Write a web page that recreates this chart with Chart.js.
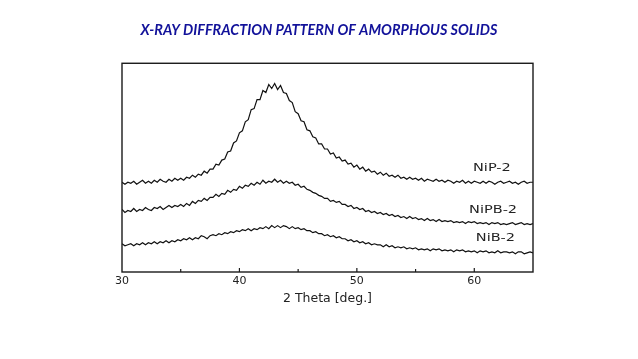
<!DOCTYPE html>
<html>
<head>
<meta charset="utf-8">
<script src="https://cdn.jsdelivr.net/npm/chart.js@4.4.1/dist/chart.umd.min.js"></script>
<style>
  html, body { margin: 0; padding: 0; background: #fff; }
  #xrd { display: block; }
</style>
</head>
<body>
<canvas id="xrd" width="638" height="359"></canvas>
<script>
// 2 theta grid: 30 to 65 deg, one reading every 0.25 deg
const thetaStart = 30;
const thetaStep = 0.25;
const xTickLabels = [30, 40, 50, 60];
const seriesNames = ['NiP-2', 'NiPB-2', 'NiB-2'];

// intensities (arbitrary units, curves kept offset as in the figure)
const nip2 = [
  89,87,89,88, 90,87,89,91, 88,90,88,91, 89,92,90,89, 92,90,93,91,
  93,91,94,93, 96,94,97,96, 100,98,102,102, 107,106,111,112, 119,120,128,130,
  138,140,149,151, 161,162,171,171, 180,178,186,182, 187,181,185,178, 177,170,168,159,
  157,150,149,141, 140,134,133,127, 127,122,122,117, 118,113,114,110, 111,107,108,104,
  106,102,104,100, 102,99,100,97, 99,96,98,95, 96,94,96,93, 94,92,94,92,
  93,91,93,90, 92,91,90,92, 90,91,89,91, 90,88,90,89, 91,88,90,88,
  90,89,88,90, 88,90,89,87, 89,90,88,89, 90,88,89,87, 89,90,88,89, 89
];
const nipb2 = [
  62,59,61,60, 63,60,62,61, 64,62,61,64, 63,65,62,64, 66,64,66,65,
  67,65,68,66, 70,68,71,70, 73,71,74,74, 77,75,78,77, 81,79,82,81,
  85,83,86,85, 88,86,89,87, 91,88,90,89, 92,89,91,88, 90,88,89,86,
  87,84,85,82, 81,79,78,76, 75,73,73,70, 71,69,70,67, 67,65,66,63,
  64,62,63,60, 61,59,60,58, 59,57,58,56, 57,55,56,54, 55,53,55,53,
  54,52,53,51, 53,51,52,50, 52,50,51,50, 51,49,50,49, 50,48,50,49,
  50,48,49,48, 49,47,49,48, 49,47,48,47, 48,49,47,48, 49,47,48,47, 48
];
const nib2 = [
  28,26,27,28, 26,28,27,29, 27,29,28,30, 28,30,29,31, 29,31,30,32,
  31,33,32,34, 32,34,33,36, 35,33,36,37, 36,38,37,39, 38,40,39,41,
  40,42,41,43, 41,43,42,44, 43,45,43,46, 44,46,44,46, 45,43,45,43,
  44,42,43,41, 41,39,40,38, 38,36,37,35, 36,34,35,33, 33,31,32,30,
  31,29,30,28, 29,27,28,27, 27,25,27,25, 26,24,25,24, 25,23,24,23,
  24,22,23,22, 23,21,23,22, 23,21,22,21, 22,20,22,21, 22,20,21,20,
  21,19,21,20, 21,19,20,19, 21,19,20,20, 19,20,18,20, 20,18,19,20, 19
];
// where each name sits (deg, intensity)
const labelX = [61.5, 61.6, 61.8];
const labelY = [103, 61, 33];

const angles = nip2.map(function(_, i) { return thetaStart + i * thetaStep; });
function toPoints(vals) {
  return vals.map(function(v, i) { return { x: angles[i], y: v }; });
}

var frameAndLabels = {
  id: 'frameAndLabels',
  afterDatasetsDraw: function(chart) {
    var ctx = chart.ctx;
    var a = chart.chartArea;
    var xs = chart.scales.x;
    var ys = chart.scales.y;
    ctx.save();
    ctx.strokeStyle = '#1a1a1a';
    ctx.lineWidth = 1.4;
    ctx.strokeRect(a.left, a.top, a.right - a.left, a.bottom - a.top);
    // inward ticks on the bottom edge
    ctx.lineWidth = 1.2;
    for (var t = 35; t < 65; t += 5) {
      var px = xs.getPixelForValue(t);
      ctx.beginPath();
      ctx.moveTo(px, a.bottom);
      ctx.lineTo(px, a.bottom - (t % 10 === 0 ? 4 : 3));
      ctx.stroke();
    }
    // curve names, the figure's lettering is stretched sideways
    ctx.fillStyle = '#222';
    ctx.font = '10px "DejaVu Sans"';
    ctx.textAlign = 'center';
    ctx.textBaseline = 'middle';
    for (var i = 0; i < seriesNames.length; i++) {
      ctx.save();
      ctx.translate(xs.getPixelForValue(labelX[i]), ys.getPixelForValue(labelY[i]));
      ctx.scale(1.45, 1);
      ctx.fillText(seriesNames[i], 0, 0);
      ctx.restore();
    }
    ctx.restore();
  }
};

new Chart(document.getElementById('xrd'), {
  type: 'line',
  data: {
    datasets: [
      { label: seriesNames[0], data: toPoints(nip2) },
      { label: seriesNames[1], data: toPoints(nipb2) },
      { label: seriesNames[2], data: toPoints(nib2) }
    ].map(function(d) {
      d.borderColor = '#111';
      d.borderWidth = 1.2;
      d.pointRadius = 0;
      d.tension = 0;
      d.fill = false;
      return d;
    })
  },
  options: {
    responsive: false,
    animation: false,
    // title is centred on the page, so the 17px left gap goes to a blank y axis
    layout: { padding: { left: 105, right: 105, top: 0, bottom: 53 } },
    plugins: {
      legend: { display: false },
      tooltip: { enabled: false },
      title: {
        display: true,
        text: 'X-RAY DIFFRACTION PATTERN OF AMORPHOUS SOLIDS',
        color: '#12129a',
        font: { family: 'Lato', size: 14.4, style: 'italic', weight: 'bold' },
        padding: { top: 22, bottom: 24 }
      }
    },
    scales: {
      x: {
        type: 'linear',
        min: 30,
        max: 65,
        grid: { display: false, drawTicks: false },
        border: { display: false },
        ticks: {
          stepSize: 5,
          padding: 4,
          color: '#222',
          font: { family: 'DejaVu Sans', size: 11, lineHeight: 1 },
          autoSkip: false,
          maxRotation: 0,
          callback: function(v) { return xTickLabels.indexOf(v) >= 0 ? String(v) : ''; }
        },
        title: {
          display: true,
          text: '2 Theta [deg.]',
          color: '#222',
          font: { family: 'DejaVu Sans', size: 12.5 },
          padding: { top: 0, bottom: 0 }
        }
      },
      y: {
        min: 0,
        max: 207,
        grid: { display: false, drawTicks: false },
        border: { display: false },
        ticks: { display: false },
        afterFit: function(s) { s.width = 17; }
      }
    }
  },
  plugins: [frameAndLabels]
});
</script>
</body>
</html>
